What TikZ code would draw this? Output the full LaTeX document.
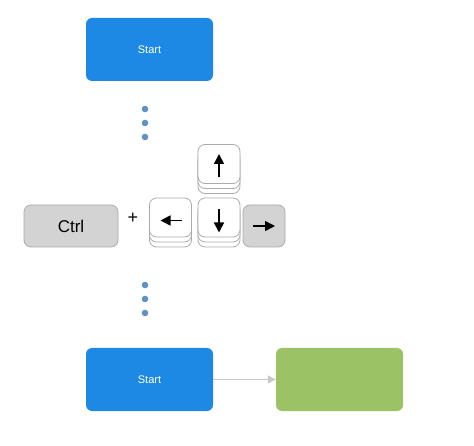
\documentclass[tikz,border=0pt]{standalone}
\usepackage{fontspec}
\setmainfont{Liberation Sans}
\usepackage{tikz}
\usetikzlibrary{arrows.meta,shadows}

\definecolor{startblue}{HTML}{1E88E5}
\definecolor{endgreen}{HTML}{9BC366}
\definecolor{dotblue}{HTML}{5F92CB}
\definecolor{keyline}{HTML}{ABABAB}
\definecolor{keygray}{HTML}{D3D3D3}
\definecolor{linkgray}{HTML}{C8C8C8}

\begin{document}
\begin{tikzpicture}[x=1pt,y=-1pt,
        box/.style={rounded corners=6pt,minimum width=127pt,minimum height=63pt,
            inner sep=0pt,font=\fontsize{11}{13}\selectfont,text=white},
        keyface/.style={draw=keyline,line width=0.8pt,rounded corners=7pt,inner sep=0pt},
        keystack/.style={keyface,fill=white,minimum width=42pt,minimum height=39pt,
            double copy shadow={shadow xshift=0pt,shadow yshift=-5pt,draw=keyline,fill=white}},
        keyflat/.style={keyface,fill=keygray,minimum height=42pt},
        keyarrow/.style={line width=1.6pt,-{Triangle[length=10pt,width=10pt]}},
        dot/.style={fill=dotblue}]
    \useasboundingbox (0,0) rectangle (474,446);
    \fill[white] (0,0) rectangle (474,446);

    \node[box,fill=startblue] (start1) at (149.5,49.5) {Start};
    \node[box,fill=startblue] (start2) at (149.5,379.5) {Start};
    \node[box,fill=endgreen] (result) at (339.5,379.5) {};

    % dots
    \foreach \y in {109,123,137,285,299,313}
        \fill[dot] (145,\y) circle (3.3pt);

    % keys
    \node[keyflat,minimum width=94pt,font=\fontsize{17}{20}\selectfont] (ctrl) at (71,226) {Ctrl};
    \node[font=\fontsize{18}{20}\selectfont] (plus) at (133,218) {+};
    \node[keystack] (kup) at (219,164) {};
    \node[keystack] (kleft) at (170.5,217.5) {};
    \node[keystack] (kdown) at (219,217.5) {};
    \node[keyflat,minimum width=42pt] (kright) at (264,226) {};

    \draw[keyarrow] ([yshift=-13pt]kup.center) -- ([yshift=10pt]kup.center);
    \draw[keyarrow] ([xshift=11pt,yshift=-3pt]kleft.center) -- ([xshift=-10pt,yshift=-3pt]kleft.center);
    \draw[keyarrow] ([yshift=8pt]kdown.center) -- ([yshift=-15pt]kdown.center);
    \draw[keyarrow] ([xshift=-11pt]kright.center) -- ([xshift=11pt]kright.center);

    \draw[linkgray,line width=1.3pt,-{Triangle[length=8pt,width=8pt]}] (start2) -- (result);
\end{tikzpicture}
\end{document}
